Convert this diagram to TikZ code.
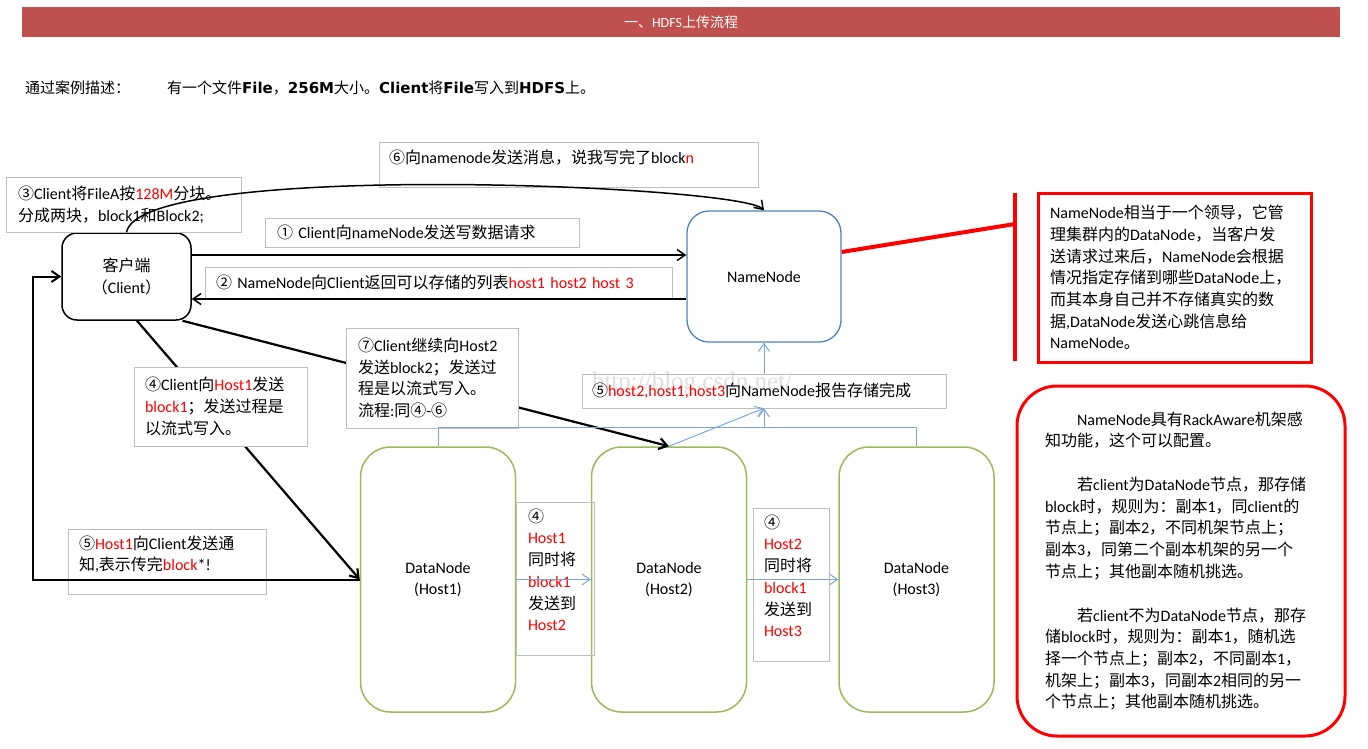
\documentclass[tikz,border=0pt]{standalone}
\usepackage{fontspec}
\setmainfont{Carlito}
\newfontfamily\cjk{Noto Sans CJK SC}
\newfontfamily\widefont{DejaVu Sans}
\newfontfamily\wmfont{Liberation Serif}
\usetikzlibrary{arrows.meta}

% switch to the CJK font for every run of Chinese characters
\XeTeXinterchartokenstate=1
\chardef\cjkclass=7
\newcount\cjkcode
\def\setcjkrange#1#2{\cjkcode=#1 \loop\XeTeXcharclass\cjkcode=\cjkclass
  \ifnum\cjkcode<#2 \advance\cjkcode by 1 \repeat}
\setcjkrange{"4E00}{"9FFF}
\setcjkrange{"3000}{"303F}
\setcjkrange{"FF00}{"FFEF}
\setcjkrange{"2460}{"24FF}
\XeTeXinterchartoks 0 \cjkclass = {\begingroup\cjk}
\XeTeXinterchartoks 4095 \cjkclass = {\begingroup\cjk}
\XeTeXinterchartoks \cjkclass 0 = {\endgroup}
\XeTeXinterchartoks \cjkclass 4095 = {\endgroup}

\definecolor{titlered}{HTML}{C0504D}
\definecolor{boxgray}{HTML}{BFBFBF}
\definecolor{nnblue}{HTML}{4F81BD}
\definecolor{dngreen}{HTML}{9BBB59}
\definecolor{flowblue}{HTML}{7DA7D9}
\definecolor{hired}{HTML}{FF0000}
\newcommand{\redtxt}[1]{\textcolor{hired}{#1}}
\newcommand{\kw}[1]{{\widefont\bfseries #1}}

\begin{document}
\begin{tikzpicture}[x=1pt, y=-1pt,
    every node/.style={font=\fontsize{16}{21.7}\selectfont},
    note/.style={draw=boxgray, align=left, inner ysep=0pt},
    arr/.style={-{Straight Barb[length=8pt,width=11pt]}, line width=1.5pt},
    flow/.style={-{Straight Barb[length=8pt,width=11pt]}, draw=flowblue, line width=1pt},
    datanode/.style={draw=dngreen, line width=1.5pt, rounded corners=30pt,
        minimum width=155pt, minimum height=265pt, align=center}
]
\useasboundingbox (0,0) rectangle (1368,748);
\node[fill=titlered, text=white, minimum width=1318pt, minimum height=30pt,
    font=\fontsize{14}{16}\selectfont] (title) at (681,22) {一、HDFS上传流程};
\node[anchor=west, inner sep=0pt, font=\fontsize{15}{18}\selectfont] (case) at (25,88) {通过案例描述：};
\node[anchor=west, inner sep=0pt, font=\fontsize{15}{18}\selectfont] (file) at (167,88)
    {有一个文件\kw{File}，\kw{256M}大小。\kw{Client}将\kw{File}写入到\kw{HDFS}上。};

% client, namenode, datanodes
\node[draw, line width=1.5pt, rounded corners=15pt, minimum width=129pt, minimum height=87pt,
    align=center] (client) at (126.5,276.5) {客户端\\（Client）};
\node[draw=nnblue, line width=1.3pt, rounded corners=22pt, minimum width=154pt,
    minimum height=131pt] (nn) at (764,276.5) {NameNode};
\node[datanode] (h1) at (438,579.5) {DataNode\\(Host1)};
\node[datanode] (h2) at (669,579.5) {DataNode\\(Host2)};
\node[datanode] (h3) at (916.5,579.5) {DataNode\\(Host3)};

\draw[arr, line width=2.2pt] ([xshift=10.5pt]client.south) -- (h1.west);
\draw[arr, line width=2.2pt] ([xshift=56pt]client.south) -- (h2.north);

% notes
\node[note, fill=white, text width=211pt, inner xsep=12pt, minimum height=55pt] (s3) at (123.5,204.5)
    {③Client将FileA按\redtxt{128M}分块。\\分成两块，block1和Block2;};
\node[note, fill=white, text width=359pt, inner xsep=10pt, minimum height=45pt,
    text height=11pt, text depth=14pt] (s6) at (568.5,164.5)
    {⑥向namenode发送消息，说我写完了block\redtxt{n}};
\node[note, text width=290pt, inner xsep=12pt, minimum height=29pt] (s1) at (422,232.5)
    {①~Client向nameNode发送写数据请求};
\node[note, text width=445pt, inner xsep=11pt, minimum height=31pt] (s2) at (438.5,282.5)
    {②~NameNode向Client返回可以存储的列表\redtxt{host1~host2~host~3}};
\node[note, fill=white, text width=151pt, inner xsep=11pt, minimum height=79pt] (s4) at (220.5,406.5)
    {④Client向\redtxt{Host1}发送\\\redtxt{block1}；发送过程是\\以流式写入。};
\node[note, fill=white, text width=148pt, inner xsep=12pt, minimum height=100pt] (s7) at (432,378)
    {⑦Client继续向Host2\\发送block2；发送过\\程是以流式写入。\\流程:同④-⑥};
\node[text=gray!25, font=\wmfont\fontsize{25}{25}\selectfont] (mark) at (692,384) {http://blog.csdn.net/};
\node[note, text width=344pt, inner xsep=10pt, minimum height=34pt] (s5) at (764,391)
    {⑤\redtxt{host2,host1,host3}向NameNode报告存储完成};
\node[note, text width=176pt, inner xsep=11pt, minimum height=65pt, text depth=38pt] (s5b) at (167,561.5)
    {⑤\redtxt{Host1}向Client发送通\\知,表示传完\redtxt{block}*!};
\node[note, text width=54pt, inner xsep=12pt, minimum height=153pt, text depth=126pt] (s4a) at (555,578.5)
    {④\\\redtxt{Host1}\\同时将\\\redtxt{block1}\\发送到\\\redtxt{Host2}};
\node[note, text width=54pt, inner xsep=11pt, minimum height=153pt, text depth=126pt] (s4b) at (791,584.5)
    {④\\\redtxt{Host2}\\同时将\\\redtxt{block1}\\发送到\\\redtxt{Host3}};

% requests and answers
\draw[arr] ([yshift=21.5pt]client.east) -- ([yshift=21.5pt]nn.west);
\draw[arr] ([yshift=-22.5pt]nn.west) -- ([yshift=-22.5pt]client.east);
\draw[arr] (client.north) .. controls (140,160) and (740,185) .. (nn.north);
\coordinate (back) at (33,579.5);
\draw[arr, line width=2pt] (h1.west) -- (back) |- (client.west);

% pipeline and reports
\coordinate (bus) at (764,427);
\draw[flowblue, line width=1pt] (h1.north) |- (bus) -| (h3.north);
\draw[flow] (bus) -- (s5.south);
\draw[flow] (h2.north) -- (s5.south);
\draw[flow] (s5.north) -- (nn.south);
\draw[flow] (h1.east) -- (h2.west);
\draw[flow] (h2.east) -- (h3.west);

% remarks
\coordinate (join) at (1015,224);
\coordinate (bartop) at (1015,193);
\coordinate (barbot) at (1015,361);
\draw[hired, line width=4pt] ([yshift=24.5pt]nn.east) -- (join);
\draw[hired, line width=4pt] (bartop) -- (barbot);
\node[draw=hired, line width=3pt, align=left, text width=249pt, inner xsep=12pt,
    minimum height=169pt] (tip1) at (1174.5,277.5)
    {NameNode相当于一个领导，它管\\理集群内的DataNode，当客户发\\送请求过来后，NameNode会根据\\情况指定存储到哪些DataNode上，\\而其本身自己并不存储真实的数\\据,DataNode发送心跳信息给\\NameNode。};
\node[draw=hired, line width=3pt, rounded corners=40pt, align=left, text width=272pt,
    inner xsep=28pt, minimum height=350pt] (tip2) at (1181,561)
    {\hspace*{2em}NameNode具有RackAware机架感\\知功能，这个可以配置。\\[22pt]
     \hspace*{2em}若client为DataNode节点，那存储\\block时，规则为：副本1，同client的\\节点上；副本2，不同机架节点上；\\副本3，同第二个副本机架的另一个\\节点上；其他副本随机挑选。\\[22pt]
     \hspace*{2em}若client不为DataNode节点，那存\\储block时，规则为：副本1，随机选\\择一个节点上；副本2，不同副本1，\\机架上；副本3，同副本2相同的另一\\个节点上；其他副本随机挑选。};
\end{tikzpicture}
\end{document}
